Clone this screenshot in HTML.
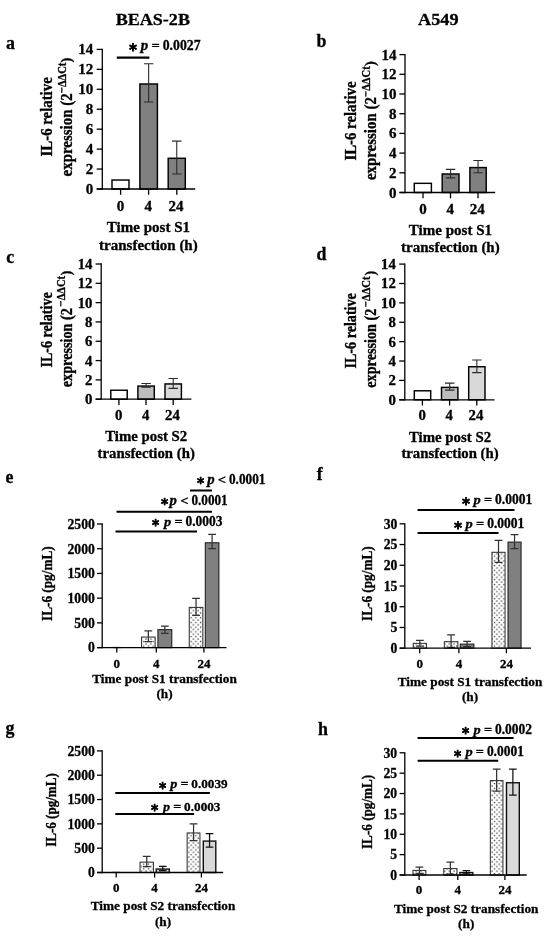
<!DOCTYPE html>
<html><head><meta charset="utf-8"><title>IL-6 expression</title>
<style>html,body{margin:0;padding:0;background:#fff}svg{display:block}text{font-family:"Liberation Serif",serif;font-weight:bold;fill:#000;stroke:#000;stroke-width:0.3px}</style>
</head><body>
<svg width="550" height="940" viewBox="0 0 550 940">
<defs><pattern id="dots" x="0" y="0" width="4.74" height="4.74" patternUnits="userSpaceOnUse"><rect width="4.74" height="4.74" fill="#fff"/><rect x="0.85" y="0.85" width="1.3" height="1.3" fill="#3c3c3c"/><rect x="3.22" y="3.22" width="1.3" height="1.3" fill="#3c3c3c"/></pattern></defs>
<rect width="550" height="940" fill="#fff"/>
<filter id="soft" x="0" y="0" width="550" height="940" filterUnits="userSpaceOnUse"><feGaussianBlur stdDeviation="0.35"/></filter>
<g filter="url(#soft)">
<text transform="translate(152.8,25.1) scale(1.045,1)" font-size="17.3" text-anchor="middle">BEAS-2B</text>
<text transform="translate(438.3,25.3) scale(1.045,1)" font-size="17.5" text-anchor="middle">A549</text>
<text x="6" y="48.8" font-size="17.9">a</text>
<text x="316.5" y="47.1" font-size="17.9">b</text>
<text x="6.3" y="262.7" font-size="17.9">c</text>
<text x="316.4" y="260.3" font-size="17.9">d</text>
<text x="5.5" y="483.4" font-size="17.9">e</text>
<text x="316.7" y="480.4" font-size="17.9">f</text>
<text x="5.5" y="733.6" font-size="17.9">g</text>
<text x="318" y="734.8" font-size="17.9">h</text>
<rect x="112" y="180.03" width="17" height="8.97" fill="#fff" stroke="#000" stroke-width="1.45"/>
<rect x="139.9" y="84" width="17.5" height="105" fill="#808080" stroke="#000" stroke-width="1.45"/>
<path d="M143.95 63.76H153.35M143.95 101.95H153.35M148.65 63.76V101.95" fill="none" stroke="#2a2a2a" stroke-width="1.1"/>
<rect x="168.2" y="158.29" width="17.1" height="30.71" fill="#808080" stroke="#000" stroke-width="1.45"/>
<path d="M172.05 141.14H181.45M172.05 174.04H181.45M176.75 141.14V174.04" fill="none" stroke="#2a2a2a" stroke-width="1.1"/>
<line x1="102.3" y1="48.75" x2="102.3" y2="189.65" stroke="#000" stroke-width="1.3"/>
<line x1="96.7" y1="189" x2="102.3" y2="189" stroke="#000" stroke-width="1.3"/>
<text transform="translate(93.3,194) scale(1.050,1)" font-size="14.3" text-anchor="end">0</text>
<line x1="96.7" y1="169.06" x2="102.3" y2="169.06" stroke="#000" stroke-width="1.3"/>
<text transform="translate(93.3,174.06) scale(1.050,1)" font-size="14.3" text-anchor="end">2</text>
<line x1="96.7" y1="149.11" x2="102.3" y2="149.11" stroke="#000" stroke-width="1.3"/>
<text transform="translate(93.3,154.11) scale(1.050,1)" font-size="14.3" text-anchor="end">4</text>
<line x1="96.7" y1="129.17" x2="102.3" y2="129.17" stroke="#000" stroke-width="1.3"/>
<text transform="translate(93.3,134.17) scale(1.050,1)" font-size="14.3" text-anchor="end">6</text>
<line x1="96.7" y1="109.23" x2="102.3" y2="109.23" stroke="#000" stroke-width="1.3"/>
<text transform="translate(93.3,114.23) scale(1.050,1)" font-size="14.3" text-anchor="end">8</text>
<line x1="96.7" y1="89.29" x2="102.3" y2="89.29" stroke="#000" stroke-width="1.3"/>
<text transform="translate(93.3,94.29) scale(1.050,1)" font-size="14.3" text-anchor="end">10</text>
<line x1="96.7" y1="69.34" x2="102.3" y2="69.34" stroke="#000" stroke-width="1.3"/>
<text transform="translate(93.3,74.34) scale(1.050,1)" font-size="14.3" text-anchor="end">12</text>
<line x1="96.7" y1="49.4" x2="102.3" y2="49.4" stroke="#000" stroke-width="1.3"/>
<text transform="translate(93.3,54.4) scale(1.050,1)" font-size="14.3" text-anchor="end">14</text>
<line x1="96.7" y1="189" x2="195.2" y2="189" stroke="#000" stroke-width="1.3"/>
<line x1="120.6" y1="189" x2="120.6" y2="194.8" stroke="#000" stroke-width="1.3"/>
<text transform="translate(120.5,211) scale(1.050,1)" font-size="14.3" text-anchor="middle">0</text>
<line x1="148.6" y1="189" x2="148.6" y2="194.8" stroke="#000" stroke-width="1.3"/>
<text transform="translate(148.3,211) scale(1.050,1)" font-size="14.3" text-anchor="middle">4</text>
<line x1="176.8" y1="189" x2="176.8" y2="194.8" stroke="#000" stroke-width="1.3"/>
<text transform="translate(176,211) scale(1.050,1)" font-size="14.3" text-anchor="middle">24</text>
<text transform="translate(148.4,232.3) scale(1.023,1)" font-size="14.7" text-anchor="middle">Time post S1</text>
<text transform="translate(148.4,249.5) scale(1.020,1)" font-size="14.7" text-anchor="middle">transfection (h)</text>
<text transform="translate(52.1,156.4) rotate(-90) scale(1.015,1.14)" font-size="14.6">IL-6 relative</text>
<text transform="translate(71.6,176.4) rotate(-90) scale(1.015,1.12)" font-size="14.7">expression (2</text>
<text transform="translate(65.5,93.1) rotate(-90) scale(1,1.15)" font-size="10.6">−ΔΔCt</text>
<text transform="translate(71.2,62.4) rotate(-90)" font-size="14.7">)</text>
<line x1="116.8" y1="57.6" x2="149.4" y2="57.6" stroke="#000" stroke-width="2.2"/>
<text x="127.79" y="50.6" font-size="11.69" font-family="DejaVu Sans, sans-serif" stroke="none">∗</text>
<text transform="translate(140.79,50) scale(1.080,1)" font-size="13.7" font-style="italic">p</text>
<text transform="translate(151.47,50) scale(1.100,1)" font-size="13.3">=</text>
<text transform="translate(162.75,50) scale(0.995,1)" font-size="13.83">0.0027</text>
<rect x="414.3" y="183.34" width="17.1" height="9.16" fill="#fff" stroke="#000" stroke-width="1.45"/>
<rect x="442.2" y="173.98" width="16.8" height="18.52" fill="#808080" stroke="#000" stroke-width="1.45"/>
<path d="M445.9 169.35H455.3M445.9 177.92H455.3M450.6 169.35V177.92" fill="none" stroke="#2a2a2a" stroke-width="1.1"/>
<rect x="469.9" y="167.58" width="16.3" height="24.92" fill="#808080" stroke="#000" stroke-width="1.45"/>
<path d="M473.35 160.49H482.75M473.35 172.8H482.75M478.05 160.49V172.8" fill="none" stroke="#2a2a2a" stroke-width="1.1"/>
<line x1="405" y1="53.95" x2="405" y2="193.15" stroke="#000" stroke-width="1.3"/>
<line x1="399.4" y1="192.5" x2="405" y2="192.5" stroke="#000" stroke-width="1.3"/>
<text transform="translate(396.4,197.5) scale(1.050,1)" font-size="14.3" text-anchor="end">0</text>
<line x1="399.4" y1="172.8" x2="405" y2="172.8" stroke="#000" stroke-width="1.3"/>
<text transform="translate(396.4,177.8) scale(1.050,1)" font-size="14.3" text-anchor="end">2</text>
<line x1="399.4" y1="153.1" x2="405" y2="153.1" stroke="#000" stroke-width="1.3"/>
<text transform="translate(396.4,158.1) scale(1.050,1)" font-size="14.3" text-anchor="end">4</text>
<line x1="399.4" y1="133.4" x2="405" y2="133.4" stroke="#000" stroke-width="1.3"/>
<text transform="translate(396.4,138.4) scale(1.050,1)" font-size="14.3" text-anchor="end">6</text>
<line x1="399.4" y1="113.7" x2="405" y2="113.7" stroke="#000" stroke-width="1.3"/>
<text transform="translate(396.4,118.7) scale(1.050,1)" font-size="14.3" text-anchor="end">8</text>
<line x1="399.4" y1="94" x2="405" y2="94" stroke="#000" stroke-width="1.3"/>
<text transform="translate(396.4,99) scale(1.050,1)" font-size="14.3" text-anchor="end">10</text>
<line x1="399.4" y1="74.3" x2="405" y2="74.3" stroke="#000" stroke-width="1.3"/>
<text transform="translate(396.4,79.3) scale(1.050,1)" font-size="14.3" text-anchor="end">12</text>
<line x1="399.4" y1="54.6" x2="405" y2="54.6" stroke="#000" stroke-width="1.3"/>
<text transform="translate(396.4,59.6) scale(1.050,1)" font-size="14.3" text-anchor="end">14</text>
<line x1="399.4" y1="192.5" x2="495.2" y2="192.5" stroke="#000" stroke-width="1.3"/>
<line x1="423" y1="192.5" x2="423" y2="198.3" stroke="#000" stroke-width="1.3"/>
<text transform="translate(422.9,214.2) scale(1.050,1)" font-size="14.3" text-anchor="middle">0</text>
<line x1="450.5" y1="192.5" x2="450.5" y2="198.3" stroke="#000" stroke-width="1.3"/>
<text transform="translate(450.2,214.2) scale(1.050,1)" font-size="14.3" text-anchor="middle">4</text>
<line x1="478" y1="192.5" x2="478" y2="198.3" stroke="#000" stroke-width="1.3"/>
<text transform="translate(477.2,214.2) scale(1.050,1)" font-size="14.3" text-anchor="middle">24</text>
<text transform="translate(450.4,235.1) scale(1.023,1)" font-size="14.7" text-anchor="middle">Time post S1</text>
<text transform="translate(450.4,251.9) scale(1.020,1)" font-size="14.7" text-anchor="middle">transfection (h)</text>
<text transform="translate(356.4,160.6) rotate(-90) scale(1.015,1.14)" font-size="14.6">IL-6 relative</text>
<text transform="translate(375.8,180.1) rotate(-90) scale(1.015,1.12)" font-size="14.7">expression (2</text>
<text transform="translate(369.7,96.8) rotate(-90) scale(1,1.15)" font-size="10.6">−ΔΔCt</text>
<text transform="translate(375.4,66.1) rotate(-90)" font-size="14.7">)</text>
<rect x="110.8" y="390.23" width="16.4" height="8.97" fill="#fff" stroke="#000" stroke-width="1.45"/>
<rect x="137.9" y="386.07" width="16.4" height="13.13" fill="#bdbdbd" stroke="#000" stroke-width="1.45"/>
<path d="M141.4 383.46H150.8M141.4 387.13H150.8M146.1 383.46V387.13" fill="none" stroke="#2a2a2a" stroke-width="1.1"/>
<rect x="165" y="383.95" width="16.4" height="15.25" fill="#d9d9d9" stroke="#000" stroke-width="1.45"/>
<path d="M168.5 378.44H177.9M168.5 388.38H177.9M173.2 378.44V388.38" fill="none" stroke="#2a2a2a" stroke-width="1.1"/>
<line x1="101.2" y1="263.35" x2="101.2" y2="399.85" stroke="#000" stroke-width="1.3"/>
<line x1="95.6" y1="399.2" x2="101.2" y2="399.2" stroke="#000" stroke-width="1.3"/>
<text transform="translate(92.5,404.2) scale(1.050,1)" font-size="14.1" text-anchor="end">0</text>
<line x1="95.6" y1="379.89" x2="101.2" y2="379.89" stroke="#000" stroke-width="1.3"/>
<text transform="translate(92.5,384.89) scale(1.050,1)" font-size="14.1" text-anchor="end">2</text>
<line x1="95.6" y1="360.57" x2="101.2" y2="360.57" stroke="#000" stroke-width="1.3"/>
<text transform="translate(92.5,365.57) scale(1.050,1)" font-size="14.1" text-anchor="end">4</text>
<line x1="95.6" y1="341.26" x2="101.2" y2="341.26" stroke="#000" stroke-width="1.3"/>
<text transform="translate(92.5,346.26) scale(1.050,1)" font-size="14.1" text-anchor="end">6</text>
<line x1="95.6" y1="321.94" x2="101.2" y2="321.94" stroke="#000" stroke-width="1.3"/>
<text transform="translate(92.5,326.94) scale(1.050,1)" font-size="14.1" text-anchor="end">8</text>
<line x1="95.6" y1="302.63" x2="101.2" y2="302.63" stroke="#000" stroke-width="1.3"/>
<text transform="translate(92.5,307.63) scale(1.050,1)" font-size="14.1" text-anchor="end">10</text>
<line x1="95.6" y1="283.31" x2="101.2" y2="283.31" stroke="#000" stroke-width="1.3"/>
<text transform="translate(92.5,288.31) scale(1.050,1)" font-size="14.1" text-anchor="end">12</text>
<line x1="95.6" y1="264" x2="101.2" y2="264" stroke="#000" stroke-width="1.3"/>
<text transform="translate(92.5,269) scale(1.050,1)" font-size="14.1" text-anchor="end">14</text>
<line x1="95.6" y1="399.2" x2="191.4" y2="399.2" stroke="#000" stroke-width="1.3"/>
<line x1="118.9" y1="399.2" x2="118.9" y2="405" stroke="#000" stroke-width="1.3"/>
<text transform="translate(118.8,420.4) scale(1.050,1)" font-size="14.1" text-anchor="middle">0</text>
<line x1="146" y1="399.2" x2="146" y2="405" stroke="#000" stroke-width="1.3"/>
<text transform="translate(145.7,420.4) scale(1.050,1)" font-size="14.1" text-anchor="middle">4</text>
<line x1="173.2" y1="399.2" x2="173.2" y2="405" stroke="#000" stroke-width="1.3"/>
<text transform="translate(172.4,420.4) scale(1.050,1)" font-size="14.1" text-anchor="middle">24</text>
<text transform="translate(146.2,441.2) scale(1.023,1)" font-size="14.5" text-anchor="middle">Time post S2</text>
<text transform="translate(146.2,457.6) scale(1.020,1)" font-size="14.5" text-anchor="middle">transfection (h)</text>
<text transform="translate(52.1,367.6) rotate(-90) scale(1.015,1.14)" font-size="13.9">IL-6 relative</text>
<text transform="translate(71.5,387.2) rotate(-90) scale(1.015,1.12)" font-size="14">expression (2</text>
<text transform="translate(65.4,306.4) rotate(-90) scale(1,1.15)" font-size="10.6">−ΔΔCt</text>
<text transform="translate(71.1,275.3) rotate(-90)" font-size="14">)</text>
<rect x="414.3" y="390.79" width="16.4" height="9.01" fill="#fff" stroke="#000" stroke-width="1.45"/>
<rect x="441.5" y="387.4" width="16.4" height="12.4" fill="#bdbdbd" stroke="#000" stroke-width="1.45"/>
<path d="M445 383.13H454.4M445 390.11H454.4M449.7 383.13V390.11" fill="none" stroke="#2a2a2a" stroke-width="1.1"/>
<rect x="468.7" y="366.75" width="16.3" height="33.05" fill="#d9d9d9" stroke="#000" stroke-width="1.45"/>
<path d="M472.15 360.06H481.55M472.15 372.66H481.55M476.85 360.06V372.66" fill="none" stroke="#2a2a2a" stroke-width="1.1"/>
<line x1="404.8" y1="263.45" x2="404.8" y2="400.45" stroke="#000" stroke-width="1.3"/>
<line x1="399.2" y1="399.8" x2="404.8" y2="399.8" stroke="#000" stroke-width="1.3"/>
<text transform="translate(395.8,404.8) scale(1.050,1)" font-size="14.1" text-anchor="end">0</text>
<line x1="399.2" y1="380.41" x2="404.8" y2="380.41" stroke="#000" stroke-width="1.3"/>
<text transform="translate(395.8,385.41) scale(1.050,1)" font-size="14.1" text-anchor="end">2</text>
<line x1="399.2" y1="361.03" x2="404.8" y2="361.03" stroke="#000" stroke-width="1.3"/>
<text transform="translate(395.8,366.03) scale(1.050,1)" font-size="14.1" text-anchor="end">4</text>
<line x1="399.2" y1="341.64" x2="404.8" y2="341.64" stroke="#000" stroke-width="1.3"/>
<text transform="translate(395.8,346.64) scale(1.050,1)" font-size="14.1" text-anchor="end">6</text>
<line x1="399.2" y1="322.26" x2="404.8" y2="322.26" stroke="#000" stroke-width="1.3"/>
<text transform="translate(395.8,327.26) scale(1.050,1)" font-size="14.1" text-anchor="end">8</text>
<line x1="399.2" y1="302.87" x2="404.8" y2="302.87" stroke="#000" stroke-width="1.3"/>
<text transform="translate(395.8,307.87) scale(1.050,1)" font-size="14.1" text-anchor="end">10</text>
<line x1="399.2" y1="283.49" x2="404.8" y2="283.49" stroke="#000" stroke-width="1.3"/>
<text transform="translate(395.8,288.49) scale(1.050,1)" font-size="14.1" text-anchor="end">12</text>
<line x1="399.2" y1="264.1" x2="404.8" y2="264.1" stroke="#000" stroke-width="1.3"/>
<text transform="translate(395.8,269.1) scale(1.050,1)" font-size="14.1" text-anchor="end">14</text>
<line x1="399.2" y1="399.8" x2="494.5" y2="399.8" stroke="#000" stroke-width="1.3"/>
<line x1="422.4" y1="399.8" x2="422.4" y2="405.6" stroke="#000" stroke-width="1.3"/>
<text transform="translate(422.3,420.4) scale(1.050,1)" font-size="14.1" text-anchor="middle">0</text>
<line x1="449.6" y1="399.8" x2="449.6" y2="405.6" stroke="#000" stroke-width="1.3"/>
<text transform="translate(449.3,420.4) scale(1.050,1)" font-size="14.1" text-anchor="middle">4</text>
<line x1="476.8" y1="399.8" x2="476.8" y2="405.6" stroke="#000" stroke-width="1.3"/>
<text transform="translate(476,420.4) scale(1.050,1)" font-size="14.1" text-anchor="middle">24</text>
<text transform="translate(450,441.7) scale(1.023,1)" font-size="14.5" text-anchor="middle">Time post S2</text>
<text transform="translate(450,458) scale(1.020,1)" font-size="14.5" text-anchor="middle">transfection (h)</text>
<text transform="translate(356.4,368.5) rotate(-90) scale(1.015,1.14)" font-size="13.9">IL-6 relative</text>
<text transform="translate(375.7,387.7) rotate(-90) scale(1.015,1.12)" font-size="14">expression (2</text>
<text transform="translate(369.6,307) rotate(-90) scale(1,1.15)" font-size="10.6">−ΔΔCt</text>
<text transform="translate(375.3,275.5) rotate(-90)" font-size="14">)</text>
<rect x="113.45" y="647.4" width="7" height="0.2" fill="#fff" stroke="#333" stroke-width="1.05"/>
<rect x="141.55" y="637.07" width="13.6" height="10.53" fill="url(#dots)" stroke="#333" stroke-width="1.05"/>
<path d="M144.45 630.79H152.25M144.45 641.67H152.25M148.35 630.79V641.67" fill="none" stroke="#333" stroke-width="1.25"/>
<rect x="157.95" y="629.65" width="13.8" height="17.95" fill="#808080" stroke="#2a2a2a" stroke-width="1.2"/>
<path d="M160.95 626.09H168.75M160.95 633.26H168.75M164.85 626.09V633.26" fill="none" stroke="#333" stroke-width="1.25"/>
<rect x="189.25" y="607.41" width="13.6" height="40.19" fill="url(#dots)" stroke="#333" stroke-width="1.05"/>
<path d="M192.15 598.41H199.95M192.15 615.46H199.95M196.05 598.41V615.46" fill="none" stroke="#333" stroke-width="1.25"/>
<rect x="205.35" y="542.79" width="13.5" height="104.81" fill="#808080" stroke="#2a2a2a" stroke-width="1.2"/>
<path d="M208.2 534.38H216M208.2 548.72H216M212.1 534.38V548.72" fill="none" stroke="#333" stroke-width="1.25"/>
<line x1="102.2" y1="523.35" x2="102.2" y2="648.25" stroke="#000" stroke-width="1.3"/>
<line x1="97" y1="647.6" x2="102.2" y2="647.6" stroke="#000" stroke-width="1.3"/>
<text x="94.8" y="652.4" font-size="13.65" text-anchor="end">0</text>
<line x1="97" y1="622.88" x2="102.2" y2="622.88" stroke="#000" stroke-width="1.3"/>
<text x="94.8" y="627.68" font-size="13.65" text-anchor="end">500</text>
<line x1="97" y1="598.16" x2="102.2" y2="598.16" stroke="#000" stroke-width="1.3"/>
<text x="94.8" y="602.96" font-size="13.65" text-anchor="end">1000</text>
<line x1="97" y1="573.44" x2="102.2" y2="573.44" stroke="#000" stroke-width="1.3"/>
<text x="94.8" y="578.24" font-size="13.65" text-anchor="end">1500</text>
<line x1="97" y1="548.72" x2="102.2" y2="548.72" stroke="#000" stroke-width="1.3"/>
<text x="94.8" y="553.52" font-size="13.65" text-anchor="end">2000</text>
<line x1="97" y1="524" x2="102.2" y2="524" stroke="#000" stroke-width="1.3"/>
<text x="94.8" y="528.8" font-size="13.65" text-anchor="end">2500</text>
<line x1="97" y1="647.6" x2="226.5" y2="647.6" stroke="#000" stroke-width="1.3"/>
<line x1="116.8" y1="647.6" x2="116.8" y2="652.6" stroke="#000" stroke-width="1.3"/>
<text x="116.8" y="667.7" font-size="13" text-anchor="middle">0</text>
<line x1="156.3" y1="647.6" x2="156.3" y2="652.6" stroke="#000" stroke-width="1.3"/>
<text x="156.3" y="667.7" font-size="13" text-anchor="middle">4</text>
<line x1="203.9" y1="647.6" x2="203.9" y2="652.6" stroke="#000" stroke-width="1.3"/>
<text x="203.9" y="667.7" font-size="13" text-anchor="middle">24</text>
<text transform="translate(164.5,683.3) scale(0.990,1)" font-size="13.4" text-anchor="middle">Time post S1 transfection</text>
<text transform="translate(164.5,698) scale(0.990,1)" font-size="13.4" text-anchor="middle">(h)</text>
<text transform="translate(52.4,621) rotate(-90) scale(1.005,1.08)" font-size="13.2">IL-6 (pg/mL)</text>
<line x1="190" y1="490.5" x2="212" y2="490.5" stroke="#000" stroke-width="2.0"/>
<text x="195.9" y="483.8" font-size="10.5" font-family="DejaVu Sans, sans-serif" stroke="none">∗</text>
<text transform="translate(207.2,483.5) scale(1.080,1)" font-size="13.6" font-style="italic">p</text>
<text transform="translate(217.8,483.5) scale(1.100,1)" font-size="13.2">&lt;</text>
<text transform="translate(229,483.5) scale(0.965,1)" font-size="13.73">0.0001</text>
<line x1="116.5" y1="511.7" x2="212" y2="511.7" stroke="#000" stroke-width="2.0"/>
<text x="160" y="505.1" font-size="10.5" font-family="DejaVu Sans, sans-serif" stroke="none">∗</text>
<text transform="translate(169.6,504.8) scale(1.080,1)" font-size="13.6" font-style="italic">p</text>
<text transform="translate(180.2,504.8) scale(1.100,1)" font-size="13.2">&lt;</text>
<text transform="translate(191.4,504.8) scale(0.962,1)" font-size="13.73">0.0001</text>
<line x1="115.5" y1="531.6" x2="197" y2="531.6" stroke="#000" stroke-width="2.0"/>
<text x="151.32" y="526.09" font-size="11.42" font-family="DejaVu Sans, sans-serif" stroke="none">∗</text>
<text transform="translate(164.03,525.5) scale(1.080,1)" font-size="13.39" font-style="italic">p</text>
<text transform="translate(174.47,525.5) scale(1.100,1)" font-size="13">=</text>
<text transform="translate(185.5,525.5) scale(0.995,1)" font-size="13.52">0.0003</text>
<rect x="413.25" y="643.32" width="13.2" height="4.88" fill="url(#dots)" stroke="#333" stroke-width="1.05"/>
<path d="M415.95 640.32H423.75M415.95 646.13H423.75M419.85 640.32V646.13" fill="none" stroke="#333" stroke-width="1.25"/>
<rect x="444.35" y="641.67" width="13.5" height="6.53" fill="url(#dots)" stroke="#333" stroke-width="1.05"/>
<path d="M447.2 634.93H455M447.2 647.37H455M451.1 634.93V647.37" fill="none" stroke="#333" stroke-width="1.25"/>
<rect x="460.35" y="644.15" width="13.5" height="4.05" fill="#808080" stroke="#2a2a2a" stroke-width="1.2"/>
<path d="M463.2 641.36H471M463.2 646.54H471M467.1 641.36V646.54" fill="none" stroke="#333" stroke-width="1.25"/>
<rect x="491.95" y="552.3" width="13.1" height="95.9" fill="url(#dots)" stroke="#333" stroke-width="1.05"/>
<path d="M494.6 540.39H502.4M494.6 562.36H502.4M498.5 540.39V562.36" fill="none" stroke="#333" stroke-width="1.25"/>
<rect x="508.05" y="542.15" width="13" height="106.05" fill="#808080" stroke="#2a2a2a" stroke-width="1.2"/>
<path d="M510.65 534.58H518.45M510.65 548.68H518.45M514.55 534.58V548.68" fill="none" stroke="#333" stroke-width="1.25"/>
<line x1="404.8" y1="523.15" x2="404.8" y2="648.85" stroke="#000" stroke-width="1.3"/>
<line x1="399.6" y1="648.2" x2="404.8" y2="648.2" stroke="#000" stroke-width="1.3"/>
<text x="397.4" y="653" font-size="13.65" text-anchor="end">0</text>
<line x1="399.6" y1="627.47" x2="404.8" y2="627.47" stroke="#000" stroke-width="1.3"/>
<text x="397.4" y="632.27" font-size="13.65" text-anchor="end">5</text>
<line x1="399.6" y1="606.73" x2="404.8" y2="606.73" stroke="#000" stroke-width="1.3"/>
<text x="397.4" y="611.53" font-size="13.65" text-anchor="end">10</text>
<line x1="399.6" y1="586" x2="404.8" y2="586" stroke="#000" stroke-width="1.3"/>
<text x="397.4" y="590.8" font-size="13.65" text-anchor="end">15</text>
<line x1="399.6" y1="565.27" x2="404.8" y2="565.27" stroke="#000" stroke-width="1.3"/>
<text x="397.4" y="570.07" font-size="13.65" text-anchor="end">20</text>
<line x1="399.6" y1="544.53" x2="404.8" y2="544.53" stroke="#000" stroke-width="1.3"/>
<text x="397.4" y="549.33" font-size="13.65" text-anchor="end">25</text>
<line x1="399.6" y1="523.8" x2="404.8" y2="523.8" stroke="#000" stroke-width="1.3"/>
<text x="397.4" y="528.6" font-size="13.65" text-anchor="end">30</text>
<line x1="399.6" y1="648.2" x2="531" y2="648.2" stroke="#000" stroke-width="1.3"/>
<line x1="419.7" y1="648.2" x2="419.7" y2="653.2" stroke="#000" stroke-width="1.3"/>
<text x="419.7" y="667.7" font-size="13" text-anchor="middle">0</text>
<line x1="458.9" y1="648.2" x2="458.9" y2="653.2" stroke="#000" stroke-width="1.3"/>
<text x="458.9" y="667.7" font-size="13" text-anchor="middle">4</text>
<line x1="506.4" y1="648.2" x2="506.4" y2="653.2" stroke="#000" stroke-width="1.3"/>
<text x="506.4" y="667.7" font-size="13" text-anchor="middle">24</text>
<text transform="translate(470,686.3) scale(0.990,1)" font-size="13.4" text-anchor="middle">Time post S1 transfection</text>
<text transform="translate(470,700.8) scale(0.990,1)" font-size="13.4" text-anchor="middle">(h)</text>
<text transform="translate(371.8,621) rotate(-90) scale(1.005,1.08)" font-size="13.2">IL-6 (pg/mL)</text>
<line x1="417.6" y1="510.1" x2="514.5" y2="510.1" stroke="#000" stroke-width="2.0"/>
<text x="460.61" y="504.9" font-size="11.51" font-family="DejaVu Sans, sans-serif" stroke="none">∗</text>
<text transform="translate(473.41,504.3) scale(1.080,1)" font-size="13.49" font-style="italic">p</text>
<text transform="translate(483.93,504.3) scale(1.100,1)" font-size="13.1">=</text>
<text transform="translate(495.05,504.3) scale(0.995,1)" font-size="13.62">0.0001</text>
<line x1="417.6" y1="533.1" x2="498.5" y2="533.1" stroke="#000" stroke-width="2.0"/>
<text x="452.71" y="529" font-size="11.51" font-family="DejaVu Sans, sans-serif" stroke="none">∗</text>
<text transform="translate(465.51,528.4) scale(1.080,1)" font-size="13.49" font-style="italic">p</text>
<text transform="translate(476.03,528.4) scale(1.100,1)" font-size="13.1">=</text>
<text transform="translate(487.15,528.4) scale(0.995,1)" font-size="13.62">0.0001</text>
<rect x="112.85" y="872.31" width="6.9" height="0.19" fill="#fff" stroke="#333" stroke-width="1.05"/>
<rect x="140.05" y="862.14" width="13.4" height="10.36" fill="url(#dots)" stroke="#333" stroke-width="1.05"/>
<path d="M142.85 856.45H150.65M142.85 866.66H150.65M146.75 856.45V866.66" fill="none" stroke="#333" stroke-width="1.25"/>
<rect x="156.2" y="869.05" width="13.1" height="3.45" fill="#d9d9d9" stroke="#111" stroke-width="1.4"/>
<path d="M158.95 866.42H166.55M158.95 870.55H166.55M162.75 866.42V870.55" fill="none" stroke="#111" stroke-width="1.25"/>
<rect x="187.15" y="832.96" width="12.8" height="39.54" fill="url(#dots)" stroke="#333" stroke-width="1.05"/>
<path d="M189.65 823.86H197.45M189.65 840.64H197.45M193.55 823.86V840.64" fill="none" stroke="#333" stroke-width="1.25"/>
<rect x="203.3" y="841.08" width="12.5" height="31.42" fill="#d9d9d9" stroke="#111" stroke-width="1.4"/>
<path d="M205.75 833.59H213.35M205.75 847.21H213.35M209.55 833.59V847.21" fill="none" stroke="#111" stroke-width="1.25"/>
<line x1="102.2" y1="750.25" x2="102.2" y2="873.15" stroke="#000" stroke-width="1.3"/>
<line x1="97" y1="872.5" x2="102.2" y2="872.5" stroke="#000" stroke-width="1.3"/>
<text x="94.8" y="877.3" font-size="13.65" text-anchor="end">0</text>
<line x1="97" y1="848.18" x2="102.2" y2="848.18" stroke="#000" stroke-width="1.3"/>
<text x="94.8" y="852.98" font-size="13.65" text-anchor="end">500</text>
<line x1="97" y1="823.86" x2="102.2" y2="823.86" stroke="#000" stroke-width="1.3"/>
<text x="94.8" y="828.66" font-size="13.65" text-anchor="end">1000</text>
<line x1="97" y1="799.54" x2="102.2" y2="799.54" stroke="#000" stroke-width="1.3"/>
<text x="94.8" y="804.34" font-size="13.65" text-anchor="end">1500</text>
<line x1="97" y1="775.22" x2="102.2" y2="775.22" stroke="#000" stroke-width="1.3"/>
<text x="94.8" y="780.02" font-size="13.65" text-anchor="end">2000</text>
<line x1="97" y1="750.9" x2="102.2" y2="750.9" stroke="#000" stroke-width="1.3"/>
<text x="94.8" y="755.7" font-size="13.65" text-anchor="end">2500</text>
<line x1="97" y1="872.5" x2="223.2" y2="872.5" stroke="#000" stroke-width="1.3"/>
<line x1="116.2" y1="872.5" x2="116.2" y2="877.5" stroke="#000" stroke-width="1.3"/>
<text x="116.2" y="891.9" font-size="13" text-anchor="middle">0</text>
<line x1="154.6" y1="872.5" x2="154.6" y2="877.5" stroke="#000" stroke-width="1.3"/>
<text x="154.6" y="891.9" font-size="13" text-anchor="middle">4</text>
<line x1="201.4" y1="872.5" x2="201.4" y2="877.5" stroke="#000" stroke-width="1.3"/>
<text x="201.4" y="891.9" font-size="13" text-anchor="middle">24</text>
<text transform="translate(163,910.2) scale(0.990,1)" font-size="13.4" text-anchor="middle">Time post S2 transfection</text>
<text transform="translate(163,925.5) scale(0.990,1)" font-size="13.4" text-anchor="middle">(h)</text>
<text transform="translate(55.8,846.8) rotate(-90) scale(1.005,1.08)" font-size="13">IL-6 (pg/mL)</text>
<line x1="115.3" y1="792.9" x2="209.9" y2="792.9" stroke="#000" stroke-width="2.0"/>
<text x="157.64" y="788.58" font-size="11.25" font-family="DejaVu Sans, sans-serif" stroke="none">∗</text>
<text transform="translate(170.15,788) scale(1.080,1)" font-size="13.18" font-style="italic">p</text>
<text transform="translate(180.43,788) scale(1.100,1)" font-size="12.8">=</text>
<text transform="translate(191.29,788) scale(0.995,1)" font-size="13.31">0.0039</text>
<line x1="115.3" y1="813.9" x2="194.1" y2="813.9" stroke="#000" stroke-width="2.0"/>
<text x="150.44" y="811.28" font-size="11.25" font-family="DejaVu Sans, sans-serif" stroke="none">∗</text>
<text transform="translate(162.95,810.7) scale(1.080,1)" font-size="13.18" font-style="italic">p</text>
<text transform="translate(173.23,810.7) scale(1.100,1)" font-size="12.8">=</text>
<text transform="translate(184.09,810.7) scale(0.995,1)" font-size="13.31">0.0003</text>
<rect x="412.95" y="870.42" width="12.9" height="4.58" fill="url(#dots)" stroke="#333" stroke-width="1.05"/>
<path d="M415.5 867.06H423.3M415.5 873.37H423.3M419.4 867.06V873.37" fill="none" stroke="#333" stroke-width="1.25"/>
<rect x="443.75" y="868.58" width="13.2" height="6.42" fill="url(#dots)" stroke="#333" stroke-width="1.05"/>
<path d="M446.45 862.17H454.25M446.45 874.19H454.25M450.35 862.17V874.19" fill="none" stroke="#333" stroke-width="1.25"/>
<rect x="459.9" y="872.55" width="12.9" height="2.45" fill="#d9d9d9" stroke="#111" stroke-width="1.4"/>
<path d="M462.55 870.52H470.15M462.55 873.98H470.15M466.35 870.52V873.98" fill="none" stroke="#111" stroke-width="1.25"/>
<rect x="490.35" y="780.6" width="12.6" height="94.4" fill="url(#dots)" stroke="#333" stroke-width="1.05"/>
<path d="M492.75 769.09H500.55M492.75 791.09H500.55M496.65 769.09V791.09" fill="none" stroke="#333" stroke-width="1.25"/>
<rect x="506.5" y="782.74" width="12.8" height="92.26" fill="#d9d9d9" stroke="#111" stroke-width="1.4"/>
<path d="M509.1 769.09H516.7M509.1 795.16H516.7M512.9 769.09V795.16" fill="none" stroke="#111" stroke-width="1.25"/>
<line x1="404.8" y1="752.15" x2="404.8" y2="875.65" stroke="#000" stroke-width="1.3"/>
<line x1="399.6" y1="875" x2="404.8" y2="875" stroke="#000" stroke-width="1.3"/>
<text x="397.2" y="879.8" font-size="13.65" text-anchor="end">0</text>
<line x1="399.6" y1="854.63" x2="404.8" y2="854.63" stroke="#000" stroke-width="1.3"/>
<text x="397.2" y="859.43" font-size="13.65" text-anchor="end">5</text>
<line x1="399.6" y1="834.27" x2="404.8" y2="834.27" stroke="#000" stroke-width="1.3"/>
<text x="397.2" y="839.07" font-size="13.65" text-anchor="end">10</text>
<line x1="399.6" y1="813.9" x2="404.8" y2="813.9" stroke="#000" stroke-width="1.3"/>
<text x="397.2" y="818.7" font-size="13.65" text-anchor="end">15</text>
<line x1="399.6" y1="793.53" x2="404.8" y2="793.53" stroke="#000" stroke-width="1.3"/>
<text x="397.2" y="798.33" font-size="13.65" text-anchor="end">20</text>
<line x1="399.6" y1="773.17" x2="404.8" y2="773.17" stroke="#000" stroke-width="1.3"/>
<text x="397.2" y="777.97" font-size="13.65" text-anchor="end">25</text>
<line x1="399.6" y1="752.8" x2="404.8" y2="752.8" stroke="#000" stroke-width="1.3"/>
<text x="397.2" y="757.6" font-size="13.65" text-anchor="end">30</text>
<line x1="399.6" y1="875" x2="526.7" y2="875" stroke="#000" stroke-width="1.3"/>
<line x1="419.1" y1="875" x2="419.1" y2="880" stroke="#000" stroke-width="1.3"/>
<text x="419.1" y="894.2" font-size="13" text-anchor="middle">0</text>
<line x1="457.8" y1="875" x2="457.8" y2="880" stroke="#000" stroke-width="1.3"/>
<text x="457.8" y="894.2" font-size="13" text-anchor="middle">4</text>
<line x1="504.9" y1="875" x2="504.9" y2="880" stroke="#000" stroke-width="1.3"/>
<text x="504.9" y="894.2" font-size="13" text-anchor="middle">24</text>
<text transform="translate(466.2,912.5) scale(0.990,1)" font-size="13.4" text-anchor="middle">Time post S2 transfection</text>
<text transform="translate(466.2,927.8) scale(0.990,1)" font-size="13.4" text-anchor="middle">(h)</text>
<text transform="translate(372.3,849) rotate(-90) scale(1.005,1.08)" font-size="13.1">IL-6 (pg/mL)</text>
<line x1="417.6" y1="738.1" x2="513.6" y2="738.1" stroke="#000" stroke-width="2.0"/>
<text x="460.82" y="734.09" font-size="11.42" font-family="DejaVu Sans, sans-serif" stroke="none">∗</text>
<text transform="translate(473.53,733.5) scale(1.080,1)" font-size="13.39" font-style="italic">p</text>
<text transform="translate(483.97,733.5) scale(1.100,1)" font-size="13">=</text>
<text transform="translate(495,733.5) scale(0.995,1)" font-size="13.52">0.0002</text>
<line x1="417.6" y1="760.8" x2="498.2" y2="760.8" stroke="#000" stroke-width="2.0"/>
<text x="452.72" y="756.69" font-size="11.42" font-family="DejaVu Sans, sans-serif" stroke="none">∗</text>
<text transform="translate(465.43,756.1) scale(1.080,1)" font-size="13.39" font-style="italic">p</text>
<text transform="translate(475.87,756.1) scale(1.100,1)" font-size="13">=</text>
<text transform="translate(486.9,756.1) scale(0.995,1)" font-size="13.52">0.0001</text>
</g>
</svg></body></html>
